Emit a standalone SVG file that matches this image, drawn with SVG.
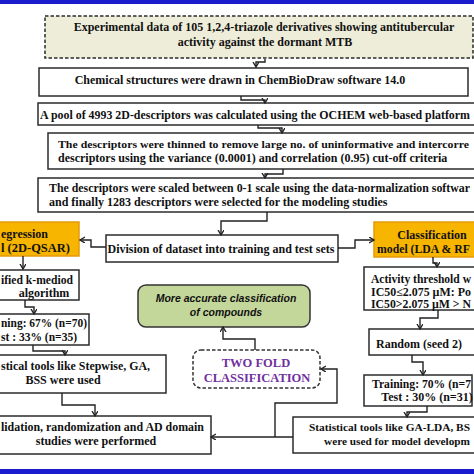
<svg xmlns="http://www.w3.org/2000/svg" width="474" height="474" viewBox="0 0 474 474">
<style>
.b{fill:#fff;stroke:#2b2b2b;stroke-width:1.5}
.d{fill:#eeedd9;stroke:#2b2b2b;stroke-width:1.5;stroke-dasharray:3.5 2}
.o{fill:#f7b500;stroke:#e39b0b;stroke-width:1.5}
.g{fill:#c4d79b;stroke:#333;stroke-width:1.5}
.tf{fill:#fff;stroke:#333;stroke-width:1.5;stroke-dasharray:3.5 2}
text{font-family:"Liberation Serif","Times New Roman",serif;font-weight:bold;font-size:12px;fill:#111}
.m{text-anchor:middle}
.s{font-size:11.5px}
.x{font-size:11px}
.gt{font-family:"Liberation Sans",Arial,sans-serif;font-style:italic;font-size:10.5px;text-anchor:middle}
.pt{fill:#7030a0;font-size:12.5px;text-anchor:middle}
.c path{fill:none;stroke:#222;stroke-width:1.4;marker-end:url(#ah)}
</style>
<defs>
<marker id="ah" markerUnits="userSpaceOnUse" markerWidth="8" markerHeight="8" refX="5" refY="3" orient="auto">
<path d="M0,0 L5,3 L0,6" fill="none" stroke="#222" stroke-width="1.4"/>
</marker>
</defs>
<rect x="0" y="0" width="474" height="4" fill="#1c1ccf"/>
<rect x="0" y="469" width="474" height="5" fill="#1c1ccf"/>

<g id="exp"><rect class="d" x="45" y="16" width="428" height="42"/>
<text class="m" x="264" y="31">Experimental data of 105 1,2,4-triazole derivatives showing antitubercular</text>
<text class="m" x="265" y="46">activity against the dormant MTB</text></g>

<g id="chem"><rect class="b" x="39" y="68" width="429" height="28"/>
<text class="m" x="240" y="84">Chemical structures were drawn in ChemBioDraw software 14.0</text></g>

<g id="pool"><rect class="b" x="38" y="103" width="438" height="22"/>
<text x="40" y="119" textLength="430" lengthAdjust="spacingAndGlyphs">A pool of 4993 2D-descriptors was calculated using the OCHEM web-based platform</text></g>

<g id="thin"><rect class="b" x="48" y="133" width="428" height="36"/>
<text class="x" x="58" y="148" textLength="411" lengthAdjust="spacingAndGlyphs">The descriptors were thinned to remove large no. of uninformative and intercorre</text>
<text x="58" y="162">descriptors using the variance (0.0001) and correlation (0.95) cut-off criteria</text></g>

<g id="scale"><rect class="b" x="38" y="178" width="438" height="34"/>
<text x="49" y="192" textLength="421" lengthAdjust="spacingAndGlyphs">The descriptors were scaled between 0-1 scale using the data-normalization softwar</text>
<text x="49" y="206">and finally 1283 descriptors were selected for the modeling studies</text></g>

<g id="division"><rect class="b" x="106" y="235" width="232" height="27"/>
<text class="m" x="221" y="253">Division of dataset into training and test sets</text></g>

<g id="regression"><rect class="o" x="-5" y="222" width="84" height="34"/>
<text x="1" y="238" textLength="47" lengthAdjust="spacingAndGlyphs">egression</text>
<text x="1" y="252" textLength="69" lengthAdjust="spacingAndGlyphs">l (2D-QSAR)</text></g>

<g id="classification"><rect class="o" x="374" y="222" width="102" height="35"/>
<text class="m" x="432" y="239">Classification</text>
<text x="377" y="253" textLength="93" lengthAdjust="spacingAndGlyphs">model (LDA &amp; RF</text></g>

<g id="kmediod"><rect class="b" x="-5" y="270" width="84" height="30"/>
<text x="1" y="284" textLength="72" lengthAdjust="spacingAndGlyphs">ified k-mediod</text>
<text class="m" x="44" y="297">algorithm</text></g>

<g id="trainL"><rect class="b" x="-5" y="314" width="94" height="31"/>
<text x="1" y="327" textLength="86" lengthAdjust="spacingAndGlyphs">ning: 67% (n=70)</text>
<text x="1" y="341" textLength="76" lengthAdjust="spacingAndGlyphs">st : 33% (n=35)</text></g>

<g id="stepwise"><rect class="b" x="-5" y="355" width="171" height="38"/>
<text x="1" y="370" textLength="149" lengthAdjust="spacingAndGlyphs">stical tools like Stepwise, GA,</text>
<text class="m" x="63" y="384">BSS were used</text></g>

<g id="validation"><rect class="b" x="-5" y="416" width="216" height="38"/>
<text x="1" y="431" textLength="203" lengthAdjust="spacingAndGlyphs">lidation, randomization and AD domain</text>
<text class="m" x="96" y="445">studies were performed</text></g>

<g id="accurate"><rect class="g" x="138" y="285" width="172" height="42" rx="8"/>
<text class="gt" x="226" y="302">More accurate classification</text>
<text class="gt" x="226" y="316">of compounds</text></g>

<g id="twofold"><rect class="tf" x="193" y="350" width="127" height="38" rx="8"/>
<text class="pt" x="256" y="367">TWO FOLD</text>
<text class="pt" x="257" y="382">CLASSIFICATION</text></g>

<g id="activity"><rect class="b" x="364" y="267" width="112" height="43"/>
<text class="s" x="371" y="283" textLength="100" lengthAdjust="spacingAndGlyphs">Activity threshold w</text>
<text class="s" x="371" y="296" textLength="100" lengthAdjust="spacingAndGlyphs">IC50≤2.075 µM: Po</text>
<text class="s" x="371" y="308" textLength="100" lengthAdjust="spacingAndGlyphs">IC50&gt;2.075 µM &gt; N</text></g>

<g id="random"><rect class="b" x="369" y="329" width="107" height="26"/>
<text class="m" x="419" y="348">Random (seed 2)</text></g>

<g id="trainR"><rect class="b" x="364" y="375" width="108" height="31"/>
<text x="372" y="388" textLength="99" lengthAdjust="spacingAndGlyphs">Training: 70% (n=7</text>
<text class="m" x="427" y="401">Test : 30% (n=31)</text></g>

<g id="galda"><rect class="b" x="293" y="417" width="183" height="36"/>
<text class="x" x="309" y="431" textLength="161" lengthAdjust="spacingAndGlyphs">Statistical tools like GA-LDA, BS</text>
<text class="x" x="324" y="445" textLength="146" lengthAdjust="spacingAndGlyphs">were used for model developm</text></g>

<g id="connectors" class="c">
<path d="M265,59 V62 H256 V67"/>
<path d="M241,96 V100 H265 V103"/>
<path d="M258,125 V128 H282 V133"/>
<path d="M283,169 V174 H265 V178"/>
<path d="M267,212 V221 H221 V235"/>
<path d="M106,247 H91 V240 H80"/>
<path d="M338,248 H355 V240 H374"/>
<path d="M23,256 V269"/>
<path d="M25,300 V307 H34 V314"/>
<path d="M33,345 V351 H65 V355"/>
<path d="M62,393 V405 H95 V416"/>
<path d="M293,437 H211"/>
<path d="M275,437 V403 H337 V369 H321"/>
<path d="M255,350 V339 H223 V327"/>
<path d="M433,257 V263 H437 V267"/>
<path d="M438,310 V318 H420 V329"/>
<path d="M412,355 V362 H423 V375"/>
<path d="M427,406 V412 H407 V417"/>
</g>
</svg>
